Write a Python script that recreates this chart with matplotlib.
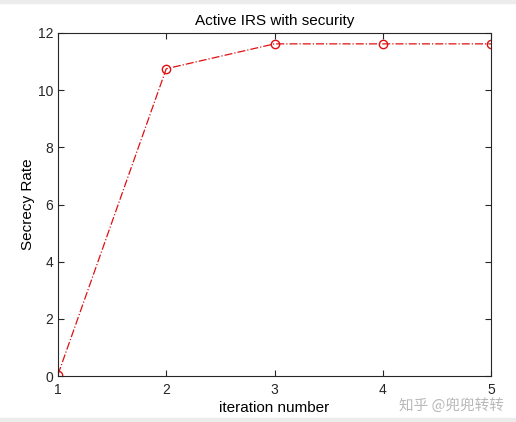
import matplotlib
matplotlib.use('Agg')
import matplotlib.pyplot as plt

iteraciones = [1, 2, 3, 4, 5]
tasa_secreta = [0.05, 10.75, 11.62, 11.62, 11.62]
ticks_y = [0, 2, 4, 6, 8, 10, 12]

plt.rcParams['font.family'] = ['Liberation Sans', 'DejaVu Sans']

fig = plt.figure(figsize=(5.16, 4.22), dpi=100)
fig.patch.set_facecolor('white')
ax = fig.add_axes([58/516, 1 - 376/422, (491-58)/516, (376-33)/422])

ax.plot(iteraciones, tasa_secreta, '-.o', color='#e01010', markerfacecolor='none', markersize=6, linewidth=0.9)

ax.set_xlim(1, 5)
ax.set_ylim(0, 12)
ax.set_xticks(iteraciones)
ax.set_yticks(ticks_y)
ax.tick_params(direction='in', top=True, right=True, labelsize=10, length=4, colors='#262626')
ax.tick_params(axis='x', pad=5)
for s in ax.spines.values():
    s.set_color('#262626')

ax.set_title('Active IRS with security', fontsize=11, color='black', pad=6)
ax.set_xlabel('iteration number', fontsize=11, labelpad=3)
ax.set_ylabel('Secrecy Rate', fontsize=11, labelpad=2)

# bandas grises y marca de agua
fig.patches.append(plt.Rectangle((0, 1 - 3/422), 1, 3/422, transform=fig.transFigure, color='#ececec', zorder=-1))
fig.patches.append(plt.Rectangle((0, 0), 1, 4/422, transform=fig.transFigure, color='#ececec', zorder=-1))
fig.text(504/516, 1 - 405/422, '知乎 @兜兜转转', fontsize=10.5, color='#b8b8b8', ha='right', va='center',
         family=['Noto Sans CJK SC', 'DejaVu Sans'])

fig.savefig('out.png', dpi=100)
